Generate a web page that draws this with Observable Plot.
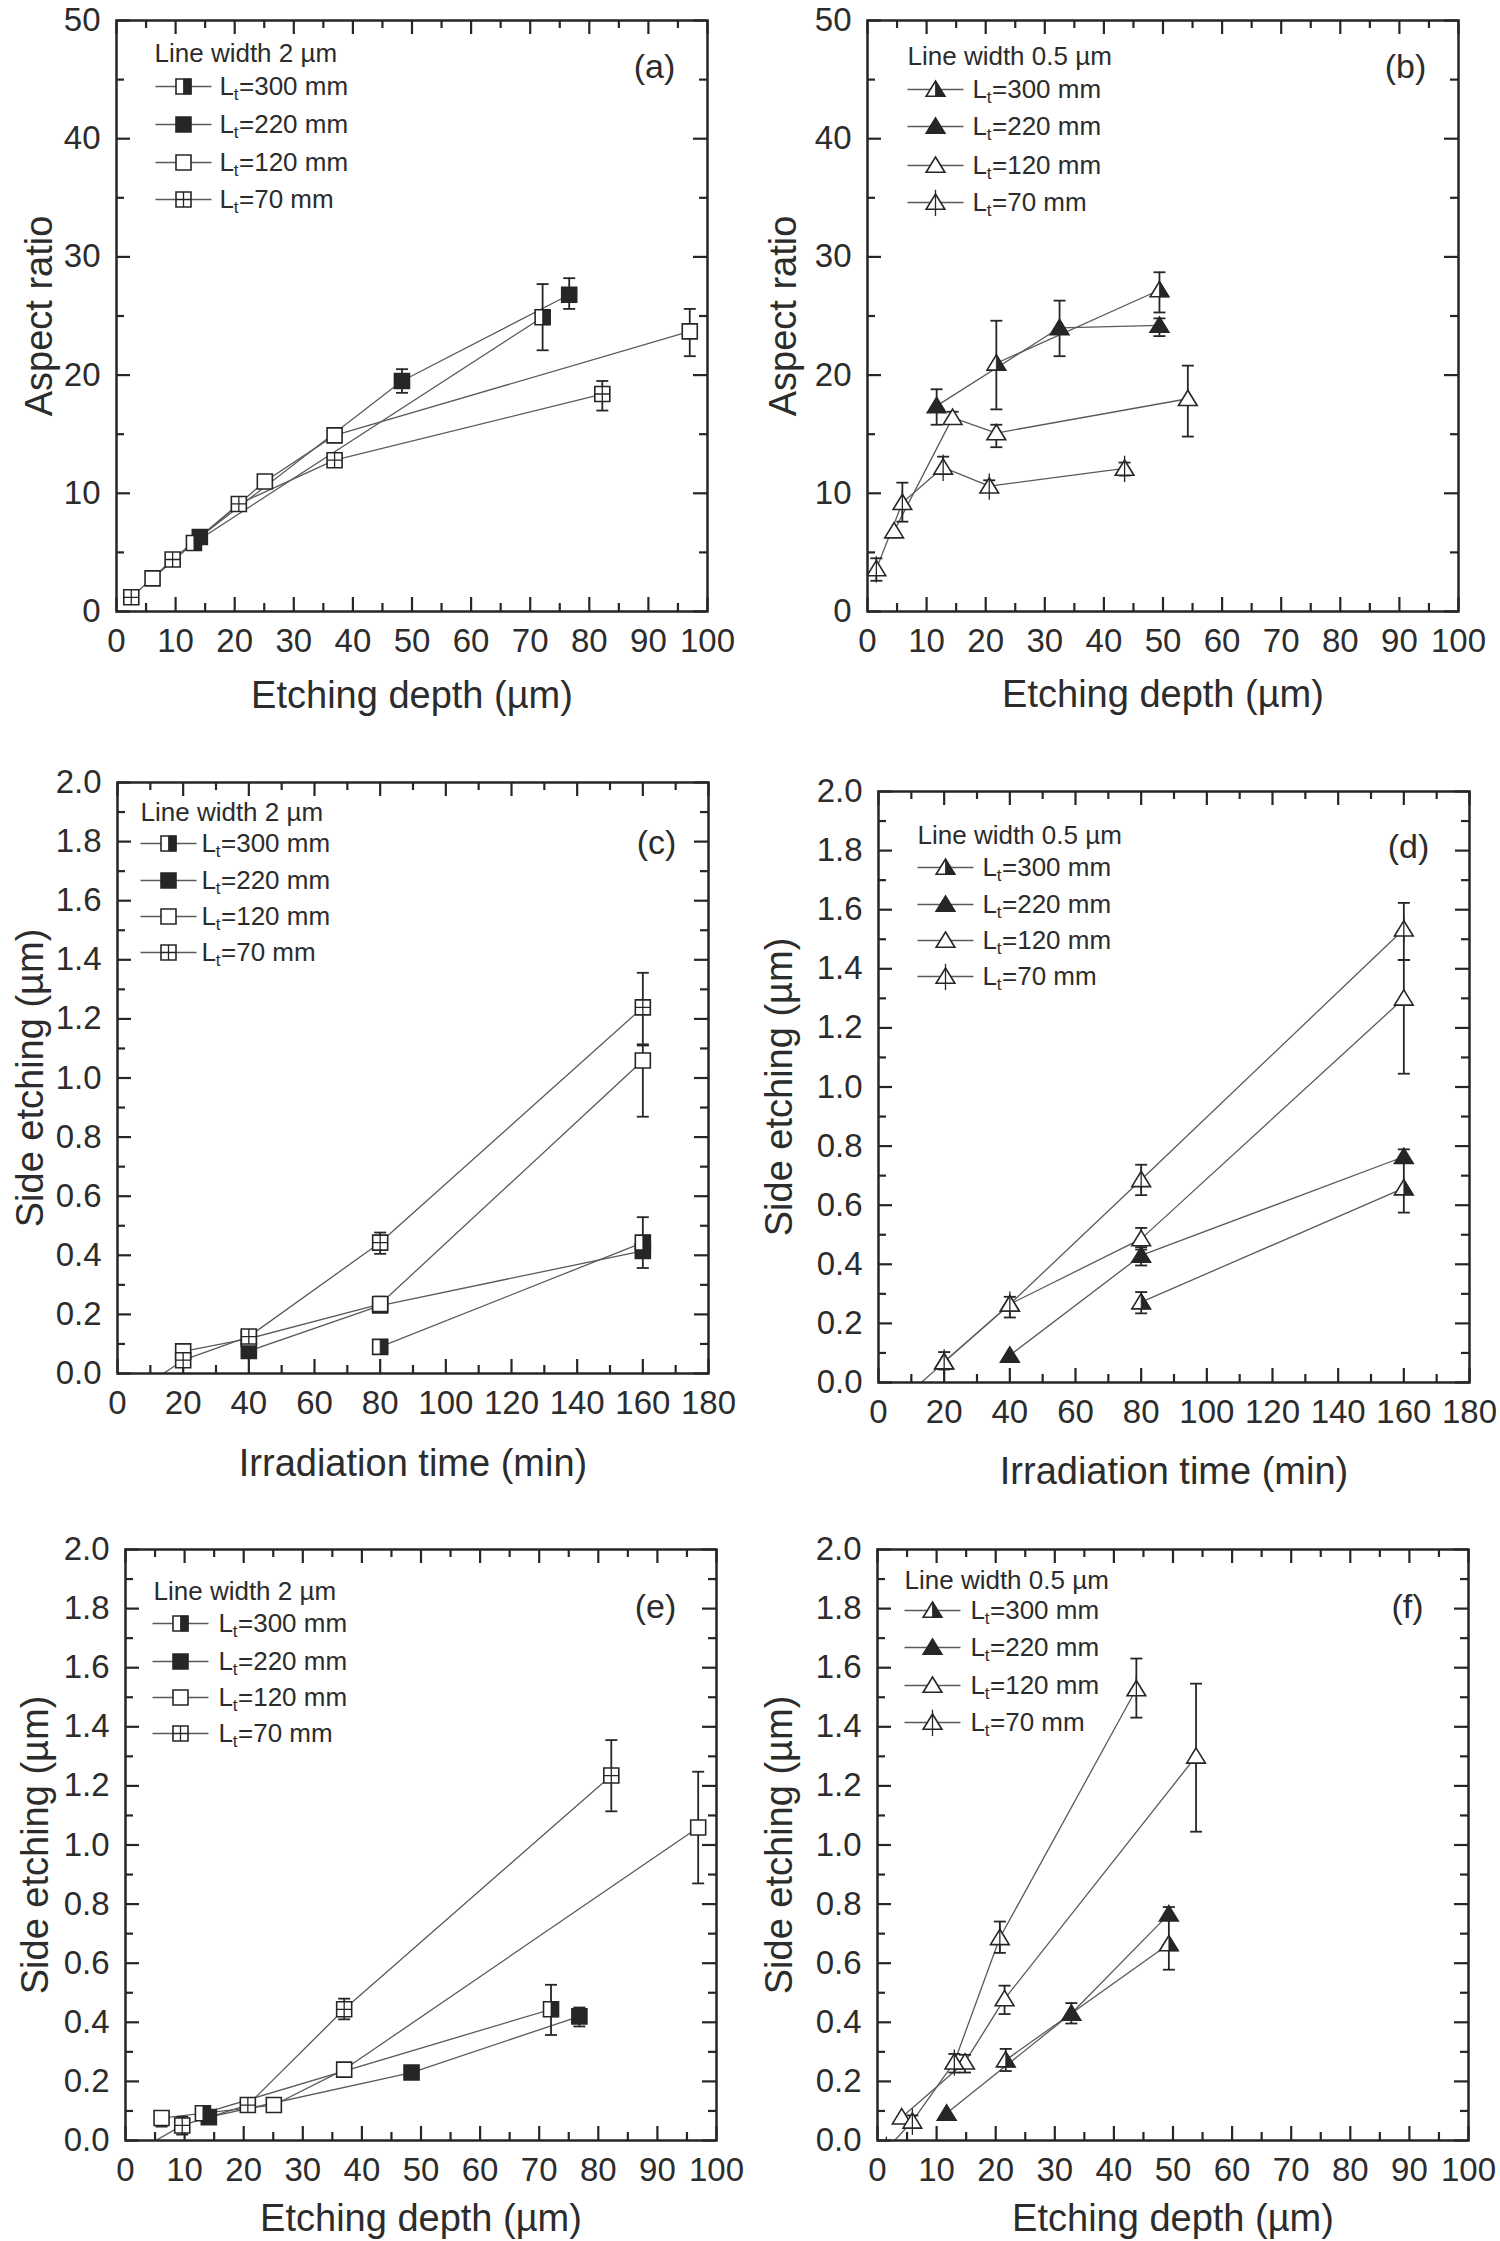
<!DOCTYPE html>
<html>
<head>
<meta charset="utf-8">
<script src="https://cdn.jsdelivr.net/npm/d3@7"></script>
<script src="https://cdn.jsdelivr.net/npm/@observablehq/plot@0.6"></script>
<style>
  html, body { margin: 0; padding: 0; background: #fff; }
  #fig { position: relative; width: 1500px; height: 2241px; background: #fff; overflow: hidden; }
  #fig svg { position: absolute; overflow: visible; }
</style>
</head>
<body>
<div id="fig"></div>
<script>
// ---------------------------------------------------------------------------
// Data: each row is [x, y, errorLow, errorHigh] (error bounds omitted when none)
// Series order everywhere: Lt = 300, 220, 120, 70 mm
// ---------------------------------------------------------------------------
const seriesKeys = ["300", "220", "120", "70"];

// (a) aspect ratio vs etching depth, line width 2 µm
const a300 = [[13.1, 5.8], [72.1, 24.9, 22.1, 27.7]];
const a220 = [[14.1, 6.3], [48.3, 19.5, 18.5, 20.5], [76.6, 26.8, 25.6, 28.2]];
const a120 = [[6.1, 2.8, 2.3, 3.3], [25.1, 11.0, 10.5, 11.5], [36.9, 14.9], [97.0, 23.7, 21.6, 25.6]];
const a70  = [[2.5, 1.2], [9.5, 4.4, 3.9, 4.9], [20.7, 9.1, 8.7, 9.5], [36.9, 12.8], [82.2, 18.4, 17.0, 19.5]];

// (b) aspect ratio vs etching depth, line width 0.5 µm
const b300 = [[21.8, 21.0, 17.1, 24.6], [49.4, 27.2, 25.3, 28.7]];
const b220 = [[11.7, 17.4, 15.8, 18.8], [32.5, 24.0, 21.6, 26.3], [49.4, 24.2, 23.3, 24.8]];
const b120 = [[4.5, 6.8], [14.4, 16.4, 15.9, 16.9], [21.8, 15.1, 13.9, 15.8], [54.2, 18.0, 14.8, 20.8]];
const b70  = [[1.5, 3.6, 2.6, 4.5], [5.9, 9.2, 7.6, 10.9], [12.8, 12.2, 11.7, 13.1], [20.6, 10.6, 10.1, 11.1], [43.5, 12.1, 11.5, 12.6]];

// (c) side etching vs irradiation time, line width 2 µm
const c300 = [[80, 0.09], [160, 0.443, 0.357, 0.529]];
const c220 = [[40, 0.076], [80, 0.23], [160, 0.415]];
const c120 = [[20, 0.075, 0.05, 0.10], [40, 0.118], [80, 0.235, 0.21, 0.26], [160, 1.059, 0.869, 1.11]];
const c70  = [[10, -0.03], [20, 0.045], [40, 0.125], [80, 0.443, 0.405, 0.477], [160, 1.239, 1.114, 1.356]];

// (d) side etching vs irradiation time, line width 0.5 µm
const d300 = [[80, 0.272, 0.234, 0.306], [160, 0.658, 0.575, 0.745]];
const d220 = [[40, 0.092], [80, 0.43, 0.396, 0.458], [160, 0.764, 0.745, 0.789]];
const d120 = [[20, 0.07], [40, 0.265], [80, 0.486, 0.45, 0.523], [160, 1.30, 1.045, 1.43]];
const d70  = [[10, -0.03], [20, 0.069, 0.044, 0.103], [40, 0.265, 0.22, 0.29], [80, 0.686, 0.634, 0.737], [160, 1.534, 1.43, 1.623]];

// (e) side etching vs etching depth, line width 2 µm
const e300 = [[13.1, 0.092], [72.0, 0.444, 0.357, 0.527]];
const e220 = [[14.1, 0.079], [48.4, 0.23], [76.8, 0.42, 0.386, 0.45]];
const e120 = [[6.1, 0.076, 0.047, 0.09], [25.1, 0.12], [37.0, 0.24], [96.9, 1.059, 0.87, 1.248]];
const e70  = [[2.5, -0.03], [9.6, 0.051, 0.02, 0.08], [20.7, 0.12], [37.0, 0.444, 0.41, 0.48], [82.2, 1.235, 1.114, 1.355]];

// (f) side etching vs etching depth, line width 0.5 µm
const f300 = [[21.7, 0.272, 0.235, 0.31], [49.3, 0.665, 0.578, 0.75]];
const f220 = [[11.7, 0.092], [32.8, 0.43, 0.396, 0.465], [49.3, 0.766, 0.75, 0.79]];
const f120 = [[4.1, 0.079], [14.8, 0.265, 0.23, 0.29], [21.5, 0.479, 0.428, 0.524], [53.9, 1.30, 1.045, 1.546]];
const f70  = [[1.5, -0.03], [5.9, 0.065, 0.045, 0.085], [13.0, 0.265, 0.23, 0.293], [20.7, 0.686, 0.635, 0.741], [43.8, 1.528, 1.431, 1.631]];

// Tick values
const depthTicks = [0, 10, 20, 30, 40, 50, 60, 70, 80, 90, 100];
const depthMinor = [5, 15, 25, 35, 45, 55, 65, 75, 85, 95];
const ratioTicks = [0, 10, 20, 30, 40, 50];
const ratioMinor = [5, 15, 25, 35, 45];
const timeTicks = [0, 20, 40, 60, 80, 100, 120, 140, 160, 180];
const timeMinor = [10, 30, 50, 70, 90, 110, 130, 150, 170];
const sideTicks = [0, 0.2, 0.4, 0.6, 0.8, 1.0, 1.2, 1.4, 1.6, 1.8, 2.0];
const sideMinor = [0.1, 0.3, 0.5, 0.7, 0.9, 1.1, 1.3, 1.5, 1.7, 1.9];

// ---------------------------------------------------------------------------
// Drawing
// ---------------------------------------------------------------------------
const INK = "#262626";
const TEXT = "#2c2c2c";
const LINE = "#5a5a5a";
const FONT = "'Liberation Sans', Arial, Helvetica, sans-serif";
const FRAME = 591;                 // plot frame size in px
const ML = 110, MR = 20, MT = 20, MB = 110;

// Marker shapes (Plot passes size = πr²)
const rad = s => Math.sqrt(s / Math.PI);
const squareShape = {draw(c, s) { const r = rad(s); c.rect(-r, -r, 2 * r, 2 * r); }};
const squareRightHalf = {draw(c, s) { const r = rad(s); c.rect(0, -r, r, 2 * r); }};
const squareCross = {draw(c, s) { const r = rad(s); c.moveTo(-r, 0); c.lineTo(r, 0); c.moveTo(0, -r); c.lineTo(0, r); }};
const triShape = {draw(c, s) { const r = rad(s); c.moveTo(0, -r); c.lineTo(1.1 * r, 0.8 * r); c.lineTo(-1.1 * r, 0.8 * r); c.closePath(); }};
const triRightHalf = {draw(c, s) { const r = rad(s); c.moveTo(0, -r); c.lineTo(1.1 * r, 0.8 * r); c.lineTo(0, 0.8 * r); c.closePath(); }};
const triStem = {draw(c, s) { const r = rad(s); c.moveTo(0, -1.5 * r); c.lineTo(0, 1.6 * r); }};
const capShape = {draw(c) { c.moveTo(-6, 0); c.lineTo(6, 0); }};
const keyLine = {draw(c) { c.moveTo(-28, 0); c.lineTo(28, 0); }};

const kinds = ["half", "filled", "open", "cross"];

function glyph(data, kind, tri, pos) {
  const common = {...pos, r: tri ? 8.5 : 7.5, stroke: INK, strokeWidth: 1.6};
  const out = [Plot.dot(data, {...common, symbol: tri ? triShape : squareShape, fill: kind === "filled" ? INK : "white"})];
  if (kind === "half") out.push(Plot.dot(data, {...common, symbol: tri ? triRightHalf : squareRightHalf, fill: INK, strokeWidth: 0.8}));
  if (kind === "cross") out.push(Plot.dot(data, {...common, symbol: tri ? triStem : squareCross, fill: "none", strokeWidth: 1.3}));
  return out;
}

function panel(p) {
  const [x0, x1] = p.xDomain, [y0, y1] = p.yDomain;
  const kx = (x1 - x0) / FRAME, ky = (y1 - y0) / FRAME;
  const X = d => d[0], Y = d => d[1];
  const marks = [];

  // inward ticks on all four sides
  const tick = {stroke: INK, strokeWidth: 2.2};
  for (const [vals, len] of [[p.xMajor, 14], [p.xMinor, 8]]) {
    marks.push(Plot.ruleX(vals, {x: d => d, y1: y0, y2: y0 + len * ky, ...tick}));
    marks.push(Plot.ruleX(vals, {x: d => d, y1: y1, y2: y1 - len * ky, ...tick}));
  }
  for (const [vals, len] of [[p.yMajor, 14], [p.yMinor, 8]]) {
    marks.push(Plot.ruleY(vals, {y: d => d, x1: x0, x2: x0 + len * kx, ...tick}));
    marks.push(Plot.ruleY(vals, {y: d => d, x1: x1, x2: x1 - len * kx, ...tick}));
  }

  // connecting lines
  for (const s of p.series) {
    marks.push(Plot.line(s, {x: X, y: Y, stroke: LINE, strokeWidth: 1.3, clip: true}));
  }
  // error bars
  for (const s of p.series) {
    const e = s.filter(d => d.length > 2);
    marks.push(Plot.ruleX(e, {x: X, y1: d => d[2], y2: d => d[3], stroke: INK, strokeWidth: 1.8}));
    marks.push(Plot.dot(e, {x: X, y: d => d[2], symbol: capShape, stroke: INK, strokeWidth: 1.8, fill: "none"}));
    marks.push(Plot.dot(e, {x: X, y: d => d[3], symbol: capShape, stroke: INK, strokeWidth: 1.8, fill: "none"}));
  }
  // markers (220, 300, 120, 70 drawn in this order)
  for (const i of [1, 0, 2, 3]) {
    marks.push(glyph(p.series[i], kinds[i], p.tri, {x: X, y: Y, clip: true}));
  }

  // frame
  marks.push(Plot.frame({stroke: INK, strokeWidth: 2.5}));

  // axes (labels only; ticks drawn above)
  marks.push(Plot.axisX({ticks: p.xMajor, tickSize: 0, tickPadding: 17, fontSize: 33, label: null, color: TEXT}));
  marks.push(Plot.axisY({ticks: p.yMajor, tickSize: 0, tickPadding: 16, fontSize: 33, label: null, color: TEXT,
    tickFormat: p.yFormat ? d3.format(p.yFormat) : undefined}));

  // axis titles
  marks.push(Plot.text([p.xTitle], {text: d => d, frameAnchor: "bottom", dy: p.xTitleDy, textAnchor: "middle", lineAnchor: "middle", fontSize: 38, fill: TEXT}));
  marks.push(Plot.text([p.yTitle], {text: d => d, frameAnchor: "left", dx: p.yTitleDx, rotate: -90, textAnchor: "middle", lineAnchor: "middle", fontSize: 38, fill: TEXT}));

  // panel tag
  marks.push(Plot.text([p.tag], {text: d => d, frameAnchor: "top-left", dx: p.tagPos[0], dy: p.tagPos[1], textAnchor: "middle", lineAnchor: "middle", fontSize: 34, fill: TEXT}));

  // legend
  const L = p.legend;
  const legendText = (s, dx, dy, size) => Plot.text([s], {text: d => d, frameAnchor: "top-left", dx, dy, textAnchor: "start", lineAnchor: "middle", fontSize: size, fill: TEXT});
  marks.push(legendText(p.legendTitle, L.title[0], L.title[1], 26));
  seriesKeys.forEach((key, i) => {
    const dy = L.rows[i];
    const at = {frameAnchor: "top-left", dx: L.mark, dy};
    marks.push(Plot.dot([0], {...at, symbol: keyLine, stroke: LINE, strokeWidth: 1.5, fill: "none"}));
    marks.push(glyph([0], kinds[i], p.tri, at));
    marks.push(legendText("L", L.text, dy, 26));
    marks.push(legendText("t", L.text + 14.2, dy + 8, 17));
    marks.push(legendText(`=${key} mm`, L.text + 19.5, dy, 26));
  });

  const svg = Plot.plot({
    width: ML + FRAME + MR,
    height: MT + FRAME + MB,
    marginLeft: ML, marginRight: MR, marginTop: MT, marginBottom: MB,
    x: {domain: p.xDomain},
    y: {domain: p.yDomain},
    style: {fontFamily: FONT, background: "transparent", overflow: "visible", color: TEXT},
    marks
  });
  svg.style.left = `${p.left - ML}px`;
  svg.style.top = `${p.top - MT}px`;
  return svg;
}

const depthTitle = "Etching depth (µm)";
const timeTitle = "Irradiation time (min)";
const sideTitle = "Side etching (µm)";

const panels = [
  {left: 116, top: 20, xDomain: [0, 100], yDomain: [0, 50], xMajor: depthTicks, xMinor: depthMinor, yMajor: ratioTicks, yMinor: ratioMinor,
   xTitle: depthTitle, yTitle: "Aspect ratio", xTitleDy: 84, yTitleDx: -77, tag: "(a)", tagPos: [538, 47],
   legendTitle: "Line width 2 µm", legend: {title: [38, 33], rows: [66, 104, 142, 179], mark: 67, text: 103},
   tri: false, series: [a300, a220, a120, a70]},
  {left: 867, top: 20, xDomain: [0, 100], yDomain: [0, 50], xMajor: depthTicks, xMinor: depthMinor, yMajor: ratioTicks, yMinor: ratioMinor,
   xTitle: depthTitle, yTitle: "Aspect ratio", xTitleDy: 83, yTitleDx: -84, tag: "(b)", tagPos: [538, 47],
   legendTitle: "Line width 0.5 µm", legend: {title: [40, 36], rows: [69, 106, 145, 182], mark: 68, text: 105},
   tri: true, series: [b300, b220, b120, b70]},
  {left: 117, top: 782, xDomain: [0, 180], yDomain: [0, 2], xMajor: timeTicks, xMinor: timeMinor, yMajor: sideTicks, yMinor: sideMinor, yFormat: ".1f",
   xTitle: timeTitle, yTitle: sideTitle, xTitleDy: 90, yTitleDx: -87, tag: "(c)", tagPos: [539, 61],
   legendTitle: "Line width 2 µm", legend: {title: [23, 30], rows: [61, 98, 134, 170], mark: 51, text: 84},
   tri: false, series: [c300, c220, c120, c70]},
  {left: 878, top: 791, xDomain: [0, 180], yDomain: [0, 2], xMajor: timeTicks, xMinor: timeMinor, yMajor: sideTicks, yMinor: sideMinor, yFormat: ".1f",
   xTitle: timeTitle, yTitle: sideTitle, xTitleDy: 89, yTitleDx: -99, tag: "(d)", tagPos: [530, 56],
   legendTitle: "Line width 0.5 µm", legend: {title: [39, 44], rows: [76, 113, 149, 185], mark: 67, text: 104},
   tri: true, series: [d300, d220, d120, d70]},
  {left: 125, top: 1549, xDomain: [0, 100], yDomain: [0, 2], xMajor: depthTicks, xMinor: depthMinor, yMajor: sideTicks, yMinor: sideMinor, yFormat: ".1f",
   xTitle: depthTitle, yTitle: sideTitle, xTitleDy: 78, yTitleDx: -90, tag: "(e)", tagPos: [530, 58],
   legendTitle: "Line width 2 µm", legend: {title: [28, 42], rows: [74, 112, 148, 184], mark: 55, text: 93},
   tri: false, series: [e300, e220, e120, e70]},
  {left: 877, top: 1549, xDomain: [0, 100], yDomain: [0, 2], xMajor: depthTicks, xMinor: depthMinor, yMajor: sideTicks, yMinor: sideMinor, yFormat: ".1f",
   xTitle: depthTitle, yTitle: sideTitle, xTitleDy: 78, yTitleDx: -98, tag: "(f)", tagPos: [530, 58],
   legendTitle: "Line width 0.5 µm", legend: {title: [27, 31], rows: [61, 98, 136, 173], mark: 55, text: 93},
   tri: true, series: [f300, f220, f120, f70]}
];

const fig = document.getElementById("fig");
for (const p of panels) fig.appendChild(panel(p));
</script>
</body>
</html>
